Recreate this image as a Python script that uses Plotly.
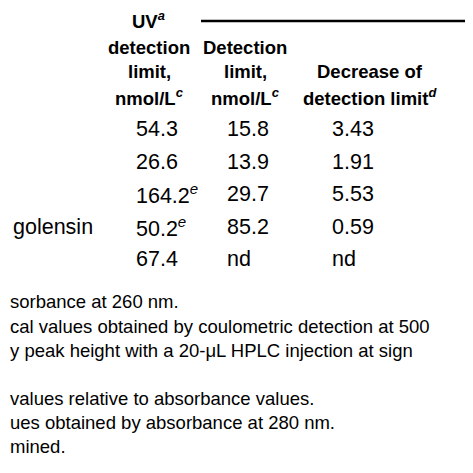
import plotly.graph_objects as go

names = ["", "", "", "golensin", ""]
uv_limit = ["54.3", "26.6", "164.2<sup><i>e</i></sup>", "50.2<sup><i>e</i></sup>", "67.4"]
ec_limit = ["15.8", "13.9", "29.7", "85.2", "nd"]
decrease = ["3.43", "1.91", "5.53", "0.59", "nd"]
footnotes = [
    "sorbance at 260 nm.",
    "cal values obtained by coulometric detection at 500",
    "y peak height with a 20-\u03bcL HPLC injection at sign",
    "",
    "values relative to absorbance values.",
    "ues obtained by absorbance at 280 nm.",
    "mined.",
]

W = H = 473
fig = go.Figure()
ann = []

def px(x, y, text, size, anchor="center", bold=False):
    if bold:
        text = "<b>" + text + "</b>"
    ann.append(dict(x=x / W, y=1 - y / H, xref="paper", yref="paper", text=text,
                    showarrow=False, xanchor=anchor, yanchor="middle",
                    font=dict(size=size, color="black", family="Liberation Sans")))

# header
hs = 18.5
px(140, 12, "UV<sup><i>a</i></sup>", hs, bold=True)
px(141, 40, "detection", hs, bold=True)
px(141, 64, "limit,", hs, bold=True)
px(141, 89, "nmol/L<sup><i>c</i></sup>", hs, bold=True)
px(237, 40, "Detection", hs, bold=True)
px(237, 64, "limit,", hs, bold=True)
px(237, 89, "nmol/L<sup><i>c</i></sup>", hs, bold=True)
px(362, 64, "Decrease of", hs, bold=True)
px(362, 89, "detection limit<sup><i>d</i></sup>", hs, bold=True)
px(459, 64, "Ir", hs, "left", bold=True)
px(459, 89, "s", hs, "left", bold=True)
fig.add_shape(type="line", x0=193 / W, x1=1, y0=1 - 13 / H, y1=1 - 13 / H,
              xref="paper", yref="paper", line=dict(color="black", width=2.5))

vs = 21.5
row_y = [121, 154, 186, 219, 251]
for i, y in enumerate(row_y):
    if names[i]:
        px(87, y, names[i], vs, "right")
    px(126, y, uv_limit[i], vs, "left")
    px(217, y, ec_limit[i], vs, "left")
    px(322, y, decrease[i], vs, "left")

foot_y = [293, 318, 342, 367, 390, 414, 438]
for t, y in zip(footnotes, foot_y):
    if t:
        px(0, y, t, 18.5, "left")

fig.update_layout(width=W, height=H, margin=dict(l=0, r=0, t=0, b=0),
                  paper_bgcolor="white", plot_bgcolor="white", annotations=ann,
                  xaxis=dict(visible=False), yaxis=dict(visible=False))
fig.write_html("out.html")
